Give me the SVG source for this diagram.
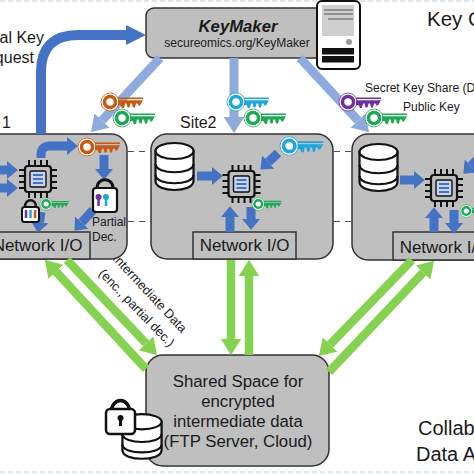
<svg xmlns="http://www.w3.org/2000/svg" width="474" height="474" viewBox="0 0 474 474">
<style>
text{font-family:"Liberation Sans",Arial,sans-serif;fill:#1a1a1a}
.box{fill:#bfbfbf;stroke:#333;stroke-width:1.5}
.net{font-size:17px;text-anchor:middle}
.big{stroke:#4472c4;stroke-width:10;fill:none;marker-end:url(#mBig)}
.light{stroke:#8faadc;stroke-width:9;fill:none;marker-end:url(#mLight)}
.green{stroke:#84d24f;stroke-width:8.500;fill:none;marker-end:url(#mGreen)}
.small{stroke:#4472c4;stroke-width:9;fill:none;marker-end:url(#mSmall)}
.dash{stroke:#44546a;stroke-width:1;stroke-dasharray:6 5;fill:none}
.edge{stroke:#dde6f0;stroke-width:2;stroke-dasharray:5 3;fill:none}
.sh{font-size:16.8px;text-anchor:middle}
.s12{font-size:12px}
.orange{color:#c55a11}.lime{color:#1fa855}.cyan{color:#1ea7dc}.purple{color:#7030a0}
</style>
<defs>
<marker id="mBig" markerUnits="strokeWidth" viewBox="0 0 2 2" refX="0" refY="1" markerWidth="2" markerHeight="2" orient="auto"><path d="M0 0L2 1L0 2Z" fill="#4472c4"/></marker>
<marker id="mLight" markerUnits="strokeWidth" viewBox="0 0 1.8 2.300" refX="0" refY="1.150" markerWidth="1.800" markerHeight="2.300" orient="auto"><path d="M0 0L1.800 1.150L0 2.300Z" fill="#8faadc"/></marker>
<marker id="mGreen" markerUnits="strokeWidth" viewBox="0 0 1.900 2.400" refX="0" refY="1.200" markerWidth="1.900" markerHeight="2.400" orient="auto"><path d="M0 0L1.900 1.200L0 2.400Z" fill="#84d24f"/></marker>
<marker id="mSmall" markerUnits="strokeWidth" viewBox="0 0 1.200 2" refX="0" refY="1" markerWidth="1.200" markerHeight="2" orient="auto"><path d="M0 0L1.200 1L0 2Z" fill="#4472c4"/></marker>
<g id="key">
<circle cx="9" cy="0" r="9" fill="#fff" stroke="currentColor" stroke-width="0.8"/>
<circle cx="9" cy="0" r="5.500" fill="#fff" stroke="currentColor" stroke-width="3.500"/>
<path d="M17 -4.500H42V-3H17ZM17 -1.800H42L39 3.500H37.500L36.500 1.500H35L34 5.500H32L31 1.500H29.500L28.500 5.500H26.500L25.500 1.500H24L23 6H21L19.500 3H17Z" fill="currentColor"/>
</g>
<g id="chip" stroke="#111" fill="none">
<rect x="-13" y="-13" width="26" height="26" rx="3" stroke-width="2.200"/>
<rect x="-8" y="-8" width="16" height="16" rx="1.500" fill="#c9d4e8" stroke-width="1.400"/>
<path d="M-5 -4H5M-5 0H5M-5 4H5" stroke="#4472c4" stroke-width="2"/>
<path d="M-9 -13V-19M-3 -13V-19M3 -13V-19M9 -13V-19M-9 13V19M-3 13V19M3 13V19M9 13V19M-13 -9H-19M-13 -3H-19M-13 3H-19M-13 9H-19M13 -9H19M13 -3H19M13 3H19M13 9H19" stroke-width="2"/>
</g>
<g id="db" fill="#fff" stroke="#111" stroke-width="2.200">
<path d="M-19 -15V15C-19 27 19 27 19 15V-15Z"/>
<ellipse cx="0" cy="-15" rx="19" ry="8"/>
<path d="M-19 -2C-19 9 19 9 19 -2M-19 9C-19 20 19 20 19 9" fill="none"/>
</g>
</defs>
<rect width="474" height="474" fill="#fff"/>
<path class="edge" d="M0 1H474M0 472H474"/>

<g id="labels">
<text x="427" y="26" font-size="20.500">Key G</text>
<text x="44" y="43" font-size="16" text-anchor="end">al Key</text>
<text x="34" y="63" font-size="16" text-anchor="end">quest</text>
<text x="2" y="128" font-size="16">1</text>
<text x="180" y="128" font-size="16">Site2</text>
<text x="365" y="92" class="s12">Secret Key Share (D</text>
<text x="403" y="111" class="s12">Public Key</text>
<text x="418" y="435" font-size="20">Collab</text>
<text x="416" y="461" font-size="20">Data A</text>
<text transform="translate(112,259) rotate(47)" font-size="12.800">Intermediate Data</text>
<text transform="translate(98,274) rotate(46)" font-size="12.800">(enc., partial dec.)</text>
</g>

<g id="dashes"><path class="dash" d="M128 151.500H151M128 221.500H151M334 151.500H352M334 221.500H352"/></g>

<g id="keymaker">
<rect class="box" x="146" y="8" width="178" height="50" rx="8"/>
<text x="238" y="32" font-size="16.700" font-weight="bold" font-style="italic" text-anchor="middle">KeyMaker</text>
<text x="237" y="47" font-size="12" text-anchor="middle">secureomics.org/KeyMaker</text>
</g>
<g id="server">
<rect x="317" y="1" width="43" height="68" rx="5" fill="#fff" stroke="#111" stroke-width="2"/>
<rect x="322" y="5" width="32" height="31" fill="#cfcfcf"/>
<path d="M324 10H353M324 14H353M328 19H353" stroke="#555" stroke-width="1.200"/>
<circle cx="349" cy="42" r="3" fill="#999"/>
<rect x="322" y="48" width="32" height="6.500" fill="#111"/>
<rect x="322" y="56" width="32" height="6.500" fill="#111"/>
</g>

<g id="site1">
<rect class="box" x="-20" y="134" width="147" height="125" rx="16"/>
<rect class="box" x="-20" y="232" width="110" height="27"/>
<text class="net" x="37.500" y="251">Network I/O</text>
<text class="s12" x="92" y="226">Partial</text>
<text class="s12" x="92" y="241">Dec.</text>
</g>
<g id="site2">
<rect class="box" x="151" y="134" width="182" height="125" rx="16"/>
<rect class="box" x="193" y="232" width="103" height="27"/>
<text class="net" x="244.500" y="251">Network I/O</text>
</g>
<g id="site3">
<rect class="box" x="352" y="134" width="150" height="126" rx="16"/>
<rect class="box" x="393" y="232" width="110" height="28"/>
<text class="net" x="444.500" y="253">Network I/O</text>
</g>
<g id="shared">
<rect class="box" x="146" y="355" width="183" height="111" rx="17"/>
<text class="sh" x="238" y="387">Shared Space for</text>
<text class="sh" x="238" y="407">encrypted</text>
<text class="sh" x="238" y="427">intermediate data</text>
<text class="sh" x="238" y="447">(FTP Server, Cloud)</text>
</g>

<g id="connectors">
<path class="big" d="M41 134V72Q41 35 78 35H126"/>
<path class="light" d="M160 58L102 120.500"/>
<path class="light" d="M234 58V117"/>
<path class="light" d="M300 58L358 120.500"/>
<path class="green" d="M146 369L55.900 271.700"/>
<path class="green" d="M67 260L146 343.400"/>
<path class="green" d="M231 260V339"/>
<path class="green" d="M249 355V276"/>
<path class="green" d="M412 260L330.100 344.500"/>
<path class="green" d="M329 372L423 272.600"/>
<path class="small" d="M0 170H7"/>
<path class="small" d="M0 188H7"/>
<path class="small" d="M41 158V155Q41 146 50 146H67"/>
<path class="small" d="M104 155V169"/>
<path class="small" d="M93 210L81.700 222.600"/>
<path class="small" d="M41 212L39.500 222"/>
<path class="small" d="M197 176H212"/>
<path class="small" d="M278 153L268.300 162.100"/>
<path class="small" d="M230 232V217"/>
<path class="small" d="M251 207V219"/>
<path class="small" d="M400 180H414"/>
<path class="small" d="M480 157L471 166"/>
<path class="small" d="M434 232V218"/>
<path class="small" d="M454 210V223"/>
</g>

<g id="keys-transit">
<use href="#key" class="orange" x="101" y="102"/>
<use href="#key" class="lime" x="113" y="118"/>
<use href="#key" class="cyan" x="227" y="102"/>
<use href="#key" class="lime" x="244" y="118"/>
<use href="#key" class="purple" x="339" y="102"/>
<use href="#key" class="lime" x="365" y="118"/>
</g>

<g id="site1-icons">
<use href="#chip" x="38" y="179"/>
<use href="#key" class="orange" x="78" y="147"/>
<use href="#key" class="lime" transform="translate(40,204) scale(.68)"/>
<g id="lock-large">
<path d="M97 188C97 177 113 177 113 188V192M97 188V192" fill="none" stroke="#111" stroke-width="3"/>
<rect x="93" y="188" width="24" height="24" rx="3" fill="#fff" stroke="#111" stroke-width="2.200"/>
<circle cx="98.500" cy="197" r="3" fill="#7030a0"/><rect x="97.300" y="197" width="2.500" height="9" fill="#7030a0"/>
<circle cx="106" cy="197" r="3" fill="#1ea7dc"/><rect x="104.800" y="197" width="2.500" height="9" fill="#1ea7dc"/>
</g>
<g id="lock-small">
<path d="M25 207C25 198 36 198 36 207" fill="none" stroke="#111" stroke-width="2.500"/>
<rect x="22" y="207" width="17" height="15" rx="2.500" fill="#fff" stroke="#111" stroke-width="2"/>
<path d="M26 210V218" stroke="#7030a0" stroke-width="2.500"/><path d="M30.500 210V218" stroke="#1ea7dc" stroke-width="2.500"/><path d="M35 210V218" stroke="#c55a11" stroke-width="2.500"/>
</g>
</g>
<g id="site2-icons">
<use href="#db" x="174.500" y="166"/>
<use href="#chip" x="241.500" y="184"/>
<use href="#key" class="cyan" transform="translate(280,146) scale(1.03)"/>
<use href="#key" class="lime" transform="translate(252,204) scale(.7)"/>
</g>
<g id="site3-icons">
<use href="#db" x="378.500" y="167"/>
<use href="#chip" x="444" y="188"/>
<use href="#key" class="lime" transform="translate(460,211) scale(.7)"/>
</g>
<g id="shared-icons">
<use href="#db" transform="translate(142,436) scale(1.03,.95)"/>
<path d="M111 414C111 396 130 396 130 414" fill="none" stroke="#111" stroke-width="3.500"/>
<rect x="106" y="409" width="29" height="25" rx="4" fill="#fff" stroke="#111" stroke-width="2.500"/>
<circle cx="120.500" cy="418" r="3" fill="#111"/><rect x="119" y="418" width="3" height="8" fill="#111"/>
</g>
</svg>
